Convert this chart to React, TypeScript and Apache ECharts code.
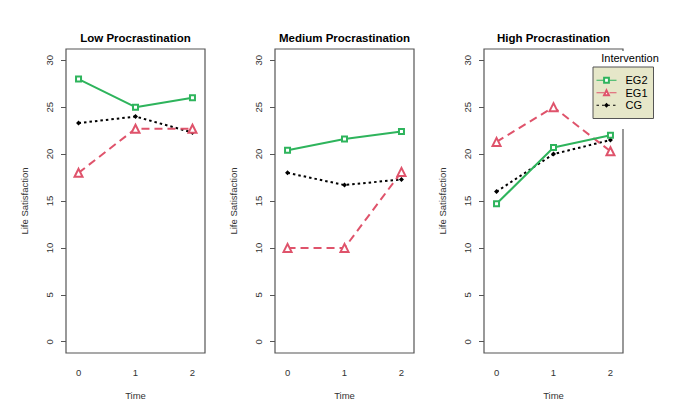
import React, { useEffect, useRef } from 'react';
import * as echarts from 'echarts';

// 数据
const TIMES = [0, 1, 2];
const PANELS = ['Low Procrastination', 'Medium Procrastination', 'High Procrastination'];
const GROUPS = ['EG2', 'EG1', 'CG'];
const Y_TICKS = [0, 5, 10, 15, 20, 25, 30];

const LOW_EG2 = [28, 25, 26];
const LOW_EG1 = [18, 22.7, 22.7];
const LOW_CG = [23.3, 24, 22.3];
const MED_EG2 = [20.4, 21.6, 22.4];
const MED_EG1 = [10, 10, 18.1];
const MED_CG = [18, 16.7, 17.3];
const HIGH_EG2 = [14.7, 20.7, 22];
const HIGH_EG1 = [21.3, 25, 20.3];
const HIGH_CG = [16, 20, 21.5];

const VALUES = [
  [LOW_EG2, LOW_EG1, LOW_CG],
  [MED_EG2, MED_EG1, MED_CG],
  [HIGH_EG2, HIGH_EG1, HIGH_CG],
];

// 样式
const FONT = '"Liberation Sans", Arial, sans-serif';
const GRID_LEFTS = [66, 275, 484];
const GRID_TOP = 49;
const GRID_W = 139;
const GRID_H = 304;
const AXIS_COLOR = '#555';
const TEXT_COLOR = '#333';

const STYLES = [
  { color: '#2eb45c', symbol: 'emptyRect', symbolSize: 5, type: 'solid' },
  { color: '#df536b', symbol: 'emptyTriangle', symbolSize: 8, type: [8, 5] },
  { color: '#000000', symbol: 'diamond', symbolSize: 5, type: [2.5, 3] },
];

const App: React.FC = () => {
  const chartRef = useRef<HTMLDivElement>(null);

  useEffect(() => {
    if (!chartRef.current) return;
    const chart = echarts.init(chartRef.current, undefined, { renderer: 'svg' });

    const grids = GRID_LEFTS.map(left => ({
      left,
      top: GRID_TOP,
      width: GRID_W,
      height: GRID_H,
      show: true,
      borderColor: AXIS_COLOR,
      borderWidth: 1.2,
      backgroundColor: 'transparent',
    }));

    const xAxes = GRID_LEFTS.map((_, i) => ({
      type: 'value',
      gridIndex: i,
      min: -0.22,
      max: 2.22,
      name: 'Time',
      nameLocation: 'middle',
      nameGap: 37,
      nameTextStyle: { fontFamily: FONT, fontSize: 9.5, color: TEXT_COLOR },
      axisLine: { show: false, onZero: false },
      axisTick: { show: false },
      splitLine: { show: false },
      axisLabel: {
        customValues: TIMES,
        margin: 14,
        fontFamily: FONT,
        fontSize: 9.5,
        color: TEXT_COLOR,
      },
    }));

    const yAxes = GRID_LEFTS.map((_, i) => ({
      type: 'value',
      gridIndex: i,
      min: -1.2,
      max: 31.2,
      name: 'Life Satisfaction',
      nameLocation: 'middle',
      nameGap: 37,
      nameTextStyle: { fontFamily: FONT, fontSize: 9.5, color: TEXT_COLOR },
      axisLine: { show: false, onZero: false },
      splitLine: { show: false },
      axisTick: {
        show: true,
        customValues: Y_TICKS,
        length: 5,
        lineStyle: { color: AXIS_COLOR, width: 1 },
      },
      axisLabel: {
        customValues: Y_TICKS,
        rotate: 90,
        margin: 12,
        fontFamily: FONT,
        fontSize: 9.5,
        color: TEXT_COLOR,
      },
    }));

    const series: any[] = [];
    VALUES.forEach((panel, p) => {
      panel.forEach((vals, g) => {
        const st = STYLES[g];
        series.push({
          name: GROUPS[g],
          type: 'line',
          xAxisIndex: p,
          yAxisIndex: p,
          data: TIMES.map((t, k) => [t, vals[k]]),
          symbol: st.symbol,
          symbolSize: st.symbolSize,
          showAllSymbol: true,
          lineStyle: { color: st.color, width: 2, type: st.type },
          itemStyle: { color: st.color, borderWidth: 1.5 },
          z: 5 - g,
        });
      });
    });

    const titles = PANELS.map((text, i) => ({
      type: 'text',
      x: GRID_LEFTS[i] + GRID_W / 2,
      y: 38,
      style: {
        text,
        fontFamily: FONT,
        fontSize: 11.5,
        fontWeight: 'bold',
        fill: '#000',
        textAlign: 'center',
        textVerticalAlign: 'middle',
      },
    }));

    chart.setOption({
      animation: false,
      backgroundColor: '#fff',
      grid: grids,
      xAxis: xAxes,
      yAxis: yAxes,
      series,
      legend: {
        data: GROUPS,
        orient: 'vertical',
        left: 593,
        top: 67,
        padding: [7, 6, 7, 3],
        itemGap: 0,
        itemWidth: 20,
        itemHeight: 6,
        backgroundColor: '#e6e7c9',
        borderColor: AXIS_COLOR,
        borderWidth: 1,
        borderRadius: 0,
        z: 10,
        lineStyle: { width: 1 },
        itemStyle: { borderWidth: 1 },
        textStyle: {
          fontFamily: FONT,
          fontSize: 11,
          lineHeight: 12.5,
          color: '#000',
          padding: [0, 0, 0, 4],
        },
      },
      graphic: [
        ...titles,
        {
          type: 'rect',
          shape: { x: 588, y: 51, width: 75, height: 78 },
          style: { fill: '#fff' },
          z: 8,
        },
        {
          type: 'text',
          x: 630,
          y: 58,
          z: 9,
          style: {
            text: 'Intervention',
            fontFamily: FONT,
            fontSize: 11,
            fill: '#000',
            textAlign: 'center',
            textVerticalAlign: 'middle',
          },
        },
      ],
    });

    return () => {
      chart.dispose();
    };
  }, []);

  return (
    <div
      ref={chartRef}
      style={{ position: 'fixed', left: 0, top: 0, width: 685, height: 410 }}
    />
  );
};

export default App;
